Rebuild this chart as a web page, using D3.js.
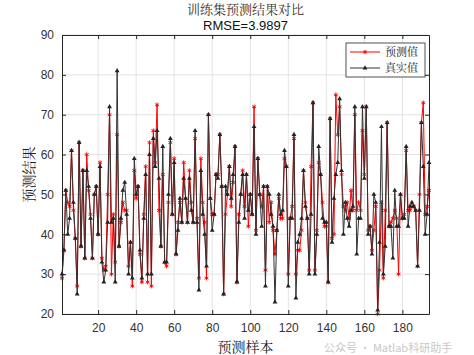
<!DOCTYPE html>
<html><head><meta charset="utf-8">
<script src="https://cdn.jsdelivr.net/npm/d3@7/dist/d3.min.js"></script>
<style>body{margin:0;background:#fff}svg{display:block}</style>
</head><body><svg id="c" width="474" height="355"></svg>
<script>
const trueVals = [30,36,51,40,44,61,48,39,25,63,37,56,34,56,52,44,34,50,52,40,
57,33,28,31,43,72,43,44,28,81,37,44,51,53,45,30,38,29,59,50,
52,36,29,44,55,30,60,30,64,57,66,54,37,62,33,33,50,64,45,58,
35,41,49,43,54,49,43,54,46,43,66,43,26,56,45,40,32,70,49,41,
45,55,54,65,52,25,52,50,57,49,55,62,28,43,50,55,44,55,46,50,
45,67,40,59,50,42,52,27,52,50,45,42,23,41,50,45,46,61,57,27,
44,44,65,24,38,40,44,56,47,44,30,45,73,30,40,62,55,44,43,43,
28,69,38,49,55,58,74,56,40,48,44,42,46,47,72,35,44,44,72,54,
72,40,42,35,50,48,21,38,67,30,37,68,42,42,34,51,42,42,50,44,
44,62,42,47,48,47,46,32,46,68,57,40,45,58];
const predVals = [29,36,51,48,47,61,46,39,27,63,37,56,34,60,51,45,34,50,52,40,
58,34,31,32,50,70,30,45,33,65,37,43,48,46,46,32,38,27,56,49,
52,35,28,45,57,28,63,27,66,58,72.5,46,37,55,33,32,48,63,45,59,
35,43,48,43,58,49,43,56,48,43,64,44,29,59,48,43,29,70,49,45,
45,55,55,65,52,25,45,50,57,47,53,62,28,45,50,56,47,55,42,50,
45,72,41,59,50,47,52,31,52,43,48,41,35,41,49,44,44,59,57,30,
44,47,64,30,36,36,41,56,48,44,31,57,73,31,41,58,55,48,42,42,
28,69,39,40,75,65,72,55,47,46,48,44,51,46,70,46,48,46,66,55,
72,41,42,36,41,47,20,31,48,29,46,68,42,43,44,46,44,30,50,44,
45,61,46,46,47,47,46,32,50,68,73,45,47,51];
const xTicks = [20,40,60,80,100,120,140,160,180];
const yTicks = [20,30,40,50,60,70,80,90];
const titleText = "训练集预测结果对比";
const subTitle = "RMSE=3.9897";
const xLabel = "预测样本";
const yLabel = "预测结果";
const legendLabels = ["预测值","真实值"];

const svg = d3.select("#c");
const L=62,R=429,T=35,B=314;
const N = trueVals.length;
const x = d3.scaleLinear().domain([1,N]).range([L,R]);
const y = d3.scaleLinear().domain([20,90]).range([B,T]);
const axisCol="#262626", font="Liberation Sans, Arial, sans-serif";
const cjk="'Noto Serif CJK SC','Noto Sans CJK SC',serif";

// grid
const g = svg.append("g");
g.selectAll(".gx").data(xTicks).join("line").attr("x1",d=>x(d)).attr("x2",d=>x(d)).attr("y1",T).attr("y2",B).attr("stroke","#e3e3e3").attr("stroke-width",1);
g.selectAll(".gy").data(yTicks).join("line").attr("y1",d=>y(d)).attr("y2",d=>y(d)).attr("x1",L).attr("x2",R).attr("stroke","#e3e3e3").attr("stroke-width",1);

// series
const line = d3.line().x((d,i)=>x(i+1)).y(d=>y(d));
const sRed = svg.append("g"), sBlk = svg.append("g");
sRed.append("path").datum(predVals).attr("d",line).attr("fill","none").attr("stroke","#ff0000").attr("stroke-width",1);
sRed.selectAll("path.m").data(predVals).join("path").attr("class","m")
  .attr("transform",(d,i)=>`translate(${x(i+1)},${y(d)})`)
  .attr("d",d3.symbol(d3.symbolAsterisk,14)).attr("stroke","#ff0000").attr("stroke-width",0.9).attr("fill","none");
sBlk.append("path").datum(trueVals).attr("d",line).attr("fill","none").attr("stroke","#333").attr("stroke-width",1);
sBlk.selectAll("path.m").data(trueVals).join("path").attr("class","m")
  .attr("transform",(d,i)=>`translate(${x(i+1)},${y(d)})`)
  .attr("d",d3.symbol(d3.symbolTriangle,10)).attr("fill","#222");

// axes
const ax = svg.append("g").attr("transform",`translate(0,${B})`).call(d3.axisBottom(x).tickValues(xTicks).tickSizeInner(-4).tickSizeOuter(0).tickPadding(9));
const axT = svg.append("g").attr("transform",`translate(0,${T})`).call(d3.axisTop(x).tickValues(xTicks).tickSizeInner(-4).tickSizeOuter(0).tickFormat(""));
const ay = svg.append("g").attr("transform",`translate(${L},0)`).call(d3.axisLeft(y).tickValues(yTicks).tickSizeInner(-4).tickSizeOuter(0).tickPadding(8));
const ayR = svg.append("g").attr("transform",`translate(${R},0)`).call(d3.axisRight(y).tickValues(yTicks).tickSizeInner(-4).tickSizeOuter(0).tickFormat(""));
[ax,axT,ay,ayR].forEach(a=>{a.select(".domain").attr("stroke",axisCol);a.selectAll(".tick line").attr("stroke",axisCol);
 a.selectAll("text").attr("fill","#333").style("font-family",font).style("font-size","12px");});

// titles
svg.append("text").attr("x",(L+R)/2).attr("y",14).attr("text-anchor","middle").style("font-family",cjk).style("font-size","13px").attr("fill","#333").text(titleText);
svg.append("text").attr("x",(L+R)/2).attr("y",30).attr("text-anchor","middle").style("font-family",font).style("font-size","13px").attr("fill","#111").text(subTitle);
svg.append("text").attr("x",(L+R)/2).attr("y",352).attr("text-anchor","middle").style("font-family",cjk).style("font-size","14px").attr("fill","#222").text(xLabel);
svg.append("text").attr("transform",`translate(34,${(T+B)/2}) rotate(-90)`).attr("text-anchor","middle").style("font-family",cjk).style("font-size","14px").attr("fill","#222").text(yLabel);

// legend
const lg = svg.append("g");
lg.append("rect").attr("x",346).attr("y",43).attr("width",79).attr("height",34).attr("fill","#fff").attr("stroke","#262626").attr("stroke-width",0.8);
const lcol=["#ff0000","#333"], lsym=[d3.symbolAsterisk,d3.symbolTriangle];
legendLabels.forEach((t,i)=>{
  const yy=52+i*16;
  lg.append("line").attr("x1",350).attr("x2",380).attr("y1",yy).attr("y2",yy).attr("stroke",lcol[i]).attr("stroke-width",1);
  lg.append("path").attr("transform",`translate(365,${yy})`).attr("d",d3.symbol(lsym[i],i?10:14))
    .attr("fill",i?"#222":"none").attr("stroke",i?"none":"#ff0000").attr("stroke-width",0.9);
  lg.append("text").attr("x",385).attr("y",yy+4).style("font-family",cjk).style("font-size","11px").attr("fill","#222").text(t);
});

// watermark (placed below tick labels to avoid overlap)
svg.append("text").attr("x",324).attr("y",352).style("font-family","'Noto Sans CJK SC',sans-serif").style("font-size","11px").attr("fill","#bbb").attr("opacity",0.8).text("公众号 · Matlab科研助手");
</script></body></html>
